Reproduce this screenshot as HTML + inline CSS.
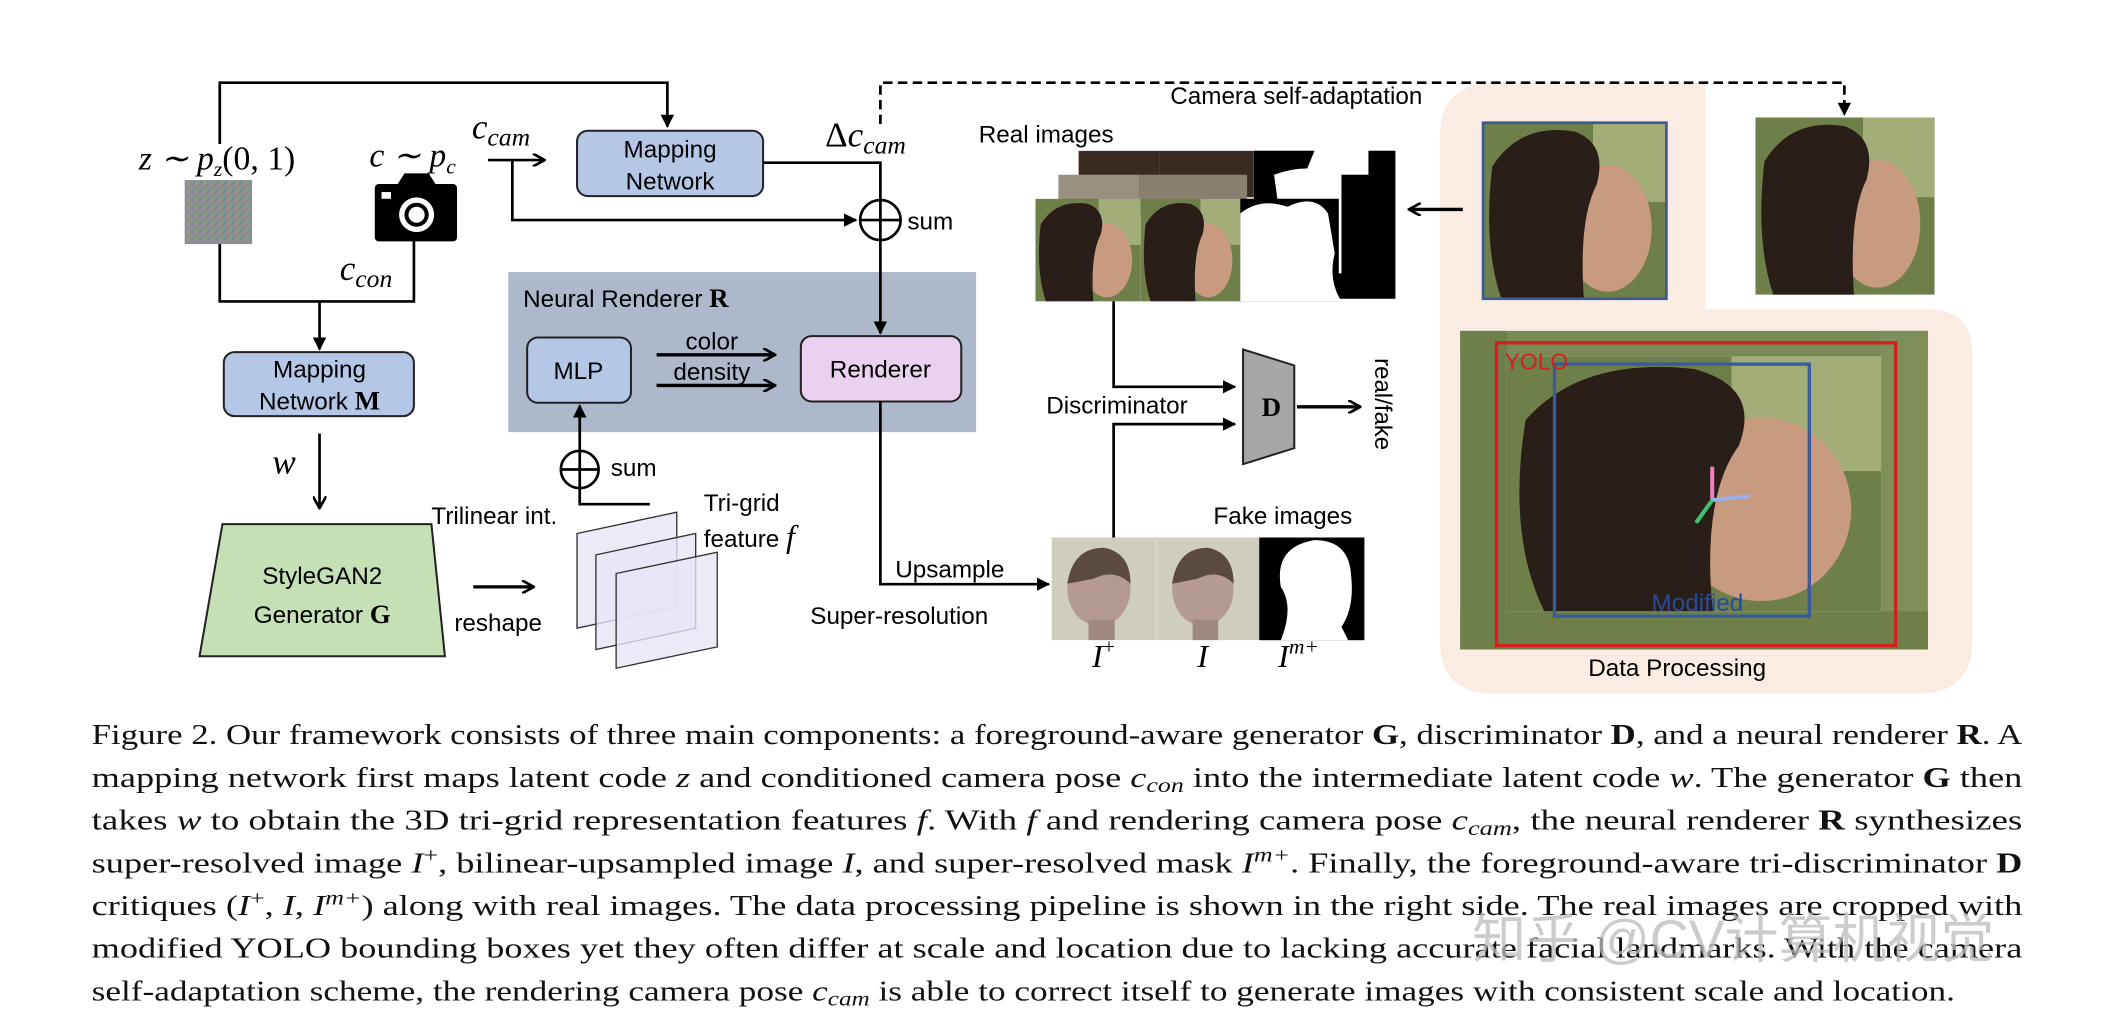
<!DOCTYPE html>
<html><head><meta charset="utf-8"><style>
html,body{margin:0;padding:0;background:#fff;}
svg{display:block;}
.s{font-family:"Liberation Sans",sans-serif;}
.m{font-family:"Liberation Serif",serif;font-style:italic;}
.c{font-family:"Liberation Serif",serif;font-size:21px;fill:#111;}
</style></head><body>
<svg width="2114" height="1031" viewBox="0 0 1568 773" preserveAspectRatio="none" xmlns="http://www.w3.org/2000/svg">
<defs>
<marker id="ar" markerWidth="10" markerHeight="10" refX="8" refY="5" orient="auto" markerUnits="userSpaceOnUse"><path d="M0,0 L9,5 L0,10" fill="none" stroke="#000" stroke-width="2"/></marker>
<marker id="at" markerWidth="10" markerHeight="10" refX="9" refY="5" orient="auto" markerUnits="userSpaceOnUse"><path d="M0,0 L10,5 L0,10 z" fill="#000"/></marker>
<pattern id="noise" width="6" height="6" patternUnits="userSpaceOnUse"><rect width="6" height="6" fill="#8a8f8a"/><rect x="0" y="0" width="2" height="2" fill="#a08aa8"/><rect x="3" y="2" width="2" height="2" fill="#7fa08a"/><rect x="1" y="4" width="2" height="2" fill="#9a9a7a"/><rect x="4" y="4" width="2" height="2" fill="#7a8aa8"/></pattern>
<g id="face">
<rect width="100" height="100" fill="#6f7f4a"/>
<rect x="60" width="40" height="45" fill="#a3ad78"/>
<ellipse cx="68" cy="60" rx="24" ry="36" fill="#c89a80"/>
<path d="M5,25 Q20,0 50,5 Q68,12 62,35 Q52,55 55,100 L10,100 Q0,70 5,25 z" fill="#2a1e18"/>
</g>
<g id="head">
<rect width="100" height="100" fill="#cfcdbd"/>
<ellipse cx="45" cy="50" rx="30" ry="36" fill="#b49a90"/>
<path d="M15,45 Q20,10 50,10 Q75,15 75,45 Q60,30 40,40 z" fill="#5a4a40"/>
<rect x="35" y="80" width="25" height="20" fill="#a08a80"/>
</g>
</defs>

<path d="M1110,62 H1265 V232 H1430 Q1463,232 1463,265 V480 Q1463,520 1423,520 H1108 Q1068,520 1068,480 V102 Q1068,62 1110,62 z" fill="#fbece3"/>

<polyline points="163,108 163,62 495,62 495,95" fill="none" stroke="#000" stroke-width="2" marker-end="url(#at)"/>
<polyline points="653,93 653,62 1368,62 1368,86" fill="none" stroke="#000" stroke-width="2" stroke-dasharray="7,4" marker-end="url(#at)"/>
<text x="868" y="78" class="s" font-size="18">Camera self-adaptation</text>

<text x="103" y="127" class="m" font-size="25">z ∼ p<tspan font-size="16" dy="5">z</tspan><tspan dy="-5" font-style="normal">(0, 1)</tspan></text>
<rect x="137" y="135" width="50" height="48" fill="url(#noise)"/>
<text x="274" y="125" class="m" font-size="25">c ∼ p<tspan font-size="16" dy="5">c</tspan></text>
<rect x="278" y="138" width="61" height="43" rx="3" fill="#000"/>
<path d="M295,138 L300,130 L318,130 L323,138 z" fill="#000"/>
<circle cx="309" cy="161" r="13" fill="#fff"/><circle cx="309" cy="161" r="9" fill="#000"/><circle cx="309" cy="161" r="6" fill="#fff"/>
<rect x="283" y="144" width="7" height="5" fill="#fff"/>
<text x="350" y="104" class="m" font-size="26">c<tspan font-size="19" dy="5">cam</tspan></text>
<text x="252" y="210" class="m" font-size="26">c<tspan font-size="19" dy="5">con</tspan></text>
<text x="612" y="110" font-family="Liberation Serif" font-size="26">Δ<tspan class="m">c</tspan><tspan class="m" font-size="19" dy="5">cam</tspan></text>

<line x1="362" y1="120" x2="403" y2="120" stroke="#000" stroke-width="2" marker-end="url(#ar)"/>
<polyline points="380,120 380,165 635,165" fill="none" stroke="#000" stroke-width="2" marker-end="url(#at)"/>
<rect x="428" y="98" width="138" height="49" rx="8" fill="#b4c7e7" stroke="#222" stroke-width="1.5"/>
<text x="497" y="118" class="s" font-size="18" text-anchor="middle">Mapping</text>
<text x="497" y="142" class="s" font-size="18" text-anchor="middle">Network</text>
<polyline points="566,122 653,122 653,150" fill="none" stroke="#000" stroke-width="2"/>
<circle cx="653" cy="165" r="15" fill="#fff" stroke="#000" stroke-width="2"/>
<line x1="638" y1="165" x2="668" y2="165" stroke="#000" stroke-width="2"/><line x1="653" y1="150" x2="653" y2="180" stroke="#000" stroke-width="2"/>
<text x="673" y="172" class="s" font-size="18">sum</text>

<rect x="377" y="204" width="347" height="120" fill="#adb9ca"/>
<line x1="653" y1="180" x2="653" y2="250" stroke="#000" stroke-width="2" marker-end="url(#at)"/>
<text x="388" y="230" class="s" font-size="18">Neural Renderer <tspan font-family="Liberation Serif" font-weight="bold" font-size="20">R</tspan></text>
<rect x="391" y="253" width="77" height="49" rx="8" fill="#b4c7e7" stroke="#222" stroke-width="1.5"/>
<text x="429" y="284" class="s" font-size="18" text-anchor="middle">MLP</text>
<rect x="594" y="252" width="119" height="49" rx="8" fill="#ead1f0" stroke="#222" stroke-width="1.5"/>
<text x="653" y="283" class="s" font-size="18" text-anchor="middle">Renderer</text>
<line x1="487" y1="266" x2="574" y2="266" stroke="#000" stroke-width="2.5" marker-end="url(#ar)"/>
<line x1="487" y1="289" x2="574" y2="289" stroke="#000" stroke-width="2.5" marker-end="url(#ar)"/>
<text x="528" y="262" class="s" font-size="18" text-anchor="middle">color</text>
<text x="528" y="285" class="s" font-size="18" text-anchor="middle">density</text>

<polyline points="163,183 163,226 307,226 307,180" fill="none" stroke="#000" stroke-width="2"/>
<line x1="237" y1="226" x2="237" y2="262" stroke="#000" stroke-width="2" marker-end="url(#at)"/>
<rect x="166" y="264" width="141" height="48" rx="8" fill="#b4c7e7" stroke="#222" stroke-width="1.5"/>
<text x="237" y="283" class="s" font-size="18" text-anchor="middle">Mapping</text>
<text x="237" y="307" class="s" font-size="18" text-anchor="middle">Network <tspan font-family="Liberation Serif" font-weight="bold" font-size="20">M</tspan></text>
<text x="202" y="355" class="m" font-size="26">w</text>
<line x1="237" y1="325" x2="237" y2="380" stroke="#000" stroke-width="2" marker-end="url(#ar)"/>
<polygon points="165,393 320,393 330,492 148,492" fill="#c5e0b4" stroke="#222" stroke-width="1.5"/>
<text x="239" y="438" class="s" font-size="18" text-anchor="middle">StyleGAN2</text>
<text x="239" y="467" class="s" font-size="18" text-anchor="middle">Generator <tspan font-family="Liberation Serif" font-weight="bold" font-size="20">G</tspan></text>
<line x1="351" y1="440" x2="395" y2="440" stroke="#000" stroke-width="2.5" marker-end="url(#ar)"/>
<text x="337" y="473" class="s" font-size="18">reshape</text>

<polygon points="428,400 502,384 502,455 428,471" fill="#e6e6f6" fill-opacity="0.8" stroke="#333" stroke-width="1"/>
<polygon points="442,416 516,400 516,471 442,487" fill="#e6e6f6" fill-opacity="0.8" stroke="#333" stroke-width="1"/>
<polygon points="457,430 532,414 532,485 457,501" fill="#e6e6f6" fill-opacity="0.8" stroke="#333" stroke-width="1"/>
<text x="320" y="393" class="s" font-size="18">Trilinear int.</text>
<text x="522" y="383" class="s" font-size="18">Tri-grid</text>
<text x="522" y="410" class="s" font-size="18">feature <tspan class="m" font-size="24">f</tspan></text>
<polyline points="482,378 430,378 430,366" fill="none" stroke="#000" stroke-width="2"/>
<circle cx="430" cy="352" r="14" fill="#fff" stroke="#000" stroke-width="2"/>
<line x1="416" y1="352" x2="444" y2="352" stroke="#000" stroke-width="2"/><line x1="430" y1="338" x2="430" y2="366" stroke="#000" stroke-width="2"/>
<line x1="430" y1="338" x2="430" y2="304" stroke="#000" stroke-width="2" marker-end="url(#at)"/>
<text x="453" y="357" class="s" font-size="18">sum</text>

<polyline points="653,301 653,438 778,438" fill="none" stroke="#000" stroke-width="2" marker-end="url(#at)"/>
<text x="664" y="433" class="s" font-size="18">Upsample</text>
<text x="601" y="468" class="s" font-size="18">Super-resolution</text>

<text x="726" y="107" class="s" font-size="18">Real images</text>
<svg x="800" y="113" width="60" height="35" viewBox="0 0 100 60" preserveAspectRatio="none"><rect width="100" height="60" fill="#3a2a22"/><ellipse cx="50" cy="60" rx="25" ry="25" fill="#c89a80"/></svg>
<svg x="860" y="113" width="70" height="35" viewBox="0 0 100 60" preserveAspectRatio="none"><rect width="100" height="60" fill="#3a2a22"/><ellipse cx="50" cy="60" rx="25" ry="25" fill="#c89a80"/></svg>
<rect x="930" y="113" width="105" height="111" fill="#000"/>
<path d="M975,113 Q990,100 1015,113 L1015,150 Q1000,170 1005,200 L990,205 Q970,180 960,150 z" fill="#fff"/>
<rect x="785" y="131" width="60" height="30" fill="#9a9080"/><rect x="845" y="131" width="80" height="30" fill="#8a8070"/>
<path d="M945,131 Q975,120 995,135 L995,205 L955,205 z" fill="#fff"/>
<rect x="995" y="131" width="25" height="80" fill="#000"/>
<svg x="768" y="149" width="78" height="77" viewBox="0 0 100 100" preserveAspectRatio="none"><use href="#face"/></svg>
<svg x="846" y="149" width="74" height="77" viewBox="0 0 100 100" preserveAspectRatio="none"><use href="#face"/></svg>
<rect x="920" y="149" width="73" height="77" fill="#000"/>
<path d="M920,226 V160 Q935,148 955,155 Q975,145 985,160 L990,190 Q985,210 995,226 z" fill="#fff"/>

<polyline points="826,226 826,290 916,290" fill="none" stroke="#000" stroke-width="2" marker-end="url(#at)"/>
<polyline points="826,403 826,318 916,318" fill="none" stroke="#000" stroke-width="2" marker-end="url(#at)"/>
<text x="776" y="310" class="s" font-size="18">Discriminator</text>
<polygon points="922,262 960,274 960,336 922,348" fill="#a6a6a6" stroke="#222" stroke-width="1.5"/>
<text x="943" y="312" font-family="Liberation Serif" font-weight="bold" font-size="20" text-anchor="middle">D</text>
<line x1="962" y1="305" x2="1008" y2="305" stroke="#000" stroke-width="2.5" marker-end="url(#ar)"/>
<text x="1020" y="303" class="s" font-size="18" transform="rotate(90 1020 303)" text-anchor="middle">real/fake</text>

<text x="900" y="393" class="s" font-size="18">Fake images</text>
<svg x="780" y="403" width="78" height="77" viewBox="0 0 100 100" preserveAspectRatio="none"><use href="#head"/></svg>
<svg x="858" y="403" width="76" height="77" viewBox="0 0 100 100" preserveAspectRatio="none"><use href="#head"/></svg>
<rect x="934" y="403" width="78" height="77" fill="#000"/>
<path d="M950,480 Q960,455 950,440 Q945,410 975,405 Q1000,405 1002,430 Q1005,455 995,470 L1000,480 z" fill="#fff"/>
<text x="810" y="500" class="m" font-size="24">I<tspan font-size="16" dy="-10" font-style="normal">+</tspan></text>
<text x="888" y="500" class="m" font-size="24">I</text>
<text x="948" y="500" class="m" font-size="24">I<tspan font-size="16" dy="-10">m+</tspan></text>

<svg x="1100" y="92" width="136" height="132" viewBox="0 0 100 100" preserveAspectRatio="none"><use href="#face"/></svg>
<rect x="1100" y="92" width="136" height="132" fill="none" stroke="#3a5a9a" stroke-width="2"/>
<svg x="1302" y="88" width="133" height="133" viewBox="0 0 100 100" preserveAspectRatio="none"><use href="#face"/></svg>
<line x1="1085" y1="157" x2="1046" y2="157" stroke="#000" stroke-width="2.5" marker-end="url(#ar)"/>
<svg x="1083" y="248" width="347" height="239" viewBox="0 0 100 100" preserveAspectRatio="none"><g transform="translate(10,8) scale(0.8)"><use href="#face"/></g><rect width="100" height="8" fill="#7a8a55"/><rect width="10" height="100" fill="#6f7f4a"/><rect x="90" width="10" height="100" fill="#7f8f5a"/><rect y="88" width="100" height="12" fill="#6f7f4a"/></svg>
<rect x="1110" y="257" width="296" height="227" fill="none" stroke="#d02020" stroke-width="2.5"/>
<rect x="1153" y="273" width="189" height="189" fill="none" stroke="#3a5a9a" stroke-width="2.5"/>
<text x="1116" y="277" class="s" font-size="17" fill="#d02020">YOLO</text>
<text x="1225" y="458" class="s" font-size="18" fill="#2a4a9a">Modified</text>
<line x1="1270" y1="375" x2="1270" y2="350" stroke="#f080c0" stroke-width="3"/>
<line x1="1270" y1="375" x2="1298" y2="372" stroke="#9ab0e8" stroke-width="3"/>
<line x1="1270" y1="375" x2="1258" y2="392" stroke="#40c070" stroke-width="3"/>
<text x="1178" y="507" class="s" font-size="18">Data Processing</text>

<text x="68" y="558" class="c" textLength="1432" lengthAdjust="spacingAndGlyphs">Figure 2. Our framework consists of three main components: a foreground-aware generator <tspan font-weight="bold">G</tspan>, discriminator <tspan font-weight="bold">D</tspan>, and a neural renderer <tspan font-weight="bold">R</tspan>. A</text>
<text x="68" y="590" class="c" textLength="1432" lengthAdjust="spacingAndGlyphs">mapping network first maps latent code <tspan font-style="italic">z</tspan> and conditioned camera pose <tspan font-style="italic">c</tspan><tspan font-style="italic" font-size="15" dy="4">con</tspan><tspan dy="-4"> into the intermediate latent code </tspan><tspan font-style="italic">w</tspan>. The generator <tspan font-weight="bold">G</tspan> then</text>
<text x="68" y="622" class="c" textLength="1432" lengthAdjust="spacingAndGlyphs">takes <tspan font-style="italic">w</tspan> to obtain the 3D tri-grid representation features <tspan font-style="italic">f</tspan>. With <tspan font-style="italic">f</tspan> and rendering camera pose <tspan font-style="italic">c</tspan><tspan font-style="italic" font-size="15" dy="4">cam</tspan><tspan dy="-4">, the neural renderer </tspan><tspan font-weight="bold">R</tspan> synthesizes</text>
<text x="68" y="654" class="c" textLength="1432" lengthAdjust="spacingAndGlyphs">super-resolved image <tspan font-style="italic">I</tspan><tspan font-size="15" dy="-8">+</tspan><tspan dy="8">, bilinear-upsampled image </tspan><tspan font-style="italic">I</tspan>, and super-resolved mask <tspan font-style="italic">I</tspan><tspan font-style="italic" font-size="15" dy="-8">m+</tspan><tspan dy="8">. Finally, the foreground-aware tri-discriminator </tspan><tspan font-weight="bold">D</tspan></text>
<text x="68" y="686" class="c" textLength="1432" lengthAdjust="spacingAndGlyphs">critiques (<tspan font-style="italic">I</tspan><tspan font-size="15" dy="-8">+</tspan><tspan dy="8">, </tspan><tspan font-style="italic">I</tspan>, <tspan font-style="italic">I</tspan><tspan font-style="italic" font-size="15" dy="-8">m+</tspan><tspan dy="8">) along with real images. The data processing pipeline is shown in the right side. The real images are cropped with</tspan></text>
<text x="68" y="718" class="c" textLength="1432" lengthAdjust="spacingAndGlyphs">modified YOLO bounding boxes yet they often differ at scale and location due to lacking accurate facial landmarks. With the camera</text>
<text x="68" y="750" class="c" textLength="1382" lengthAdjust="spacingAndGlyphs">self-adaptation scheme, the rendering camera pose <tspan font-style="italic">c</tspan><tspan font-style="italic" font-size="15" dy="4">cam</tspan><tspan dy="-4"> is able to correct itself to generate images with consistent scale and location.</tspan></text>
<text x="1092" y="718" font-family="'Liberation Sans','Noto Sans CJK SC',sans-serif" font-size="40" fill="#bbb" fill-opacity="0.75">知乎 @CV计算机视觉</text>
</svg>
</body></html>
